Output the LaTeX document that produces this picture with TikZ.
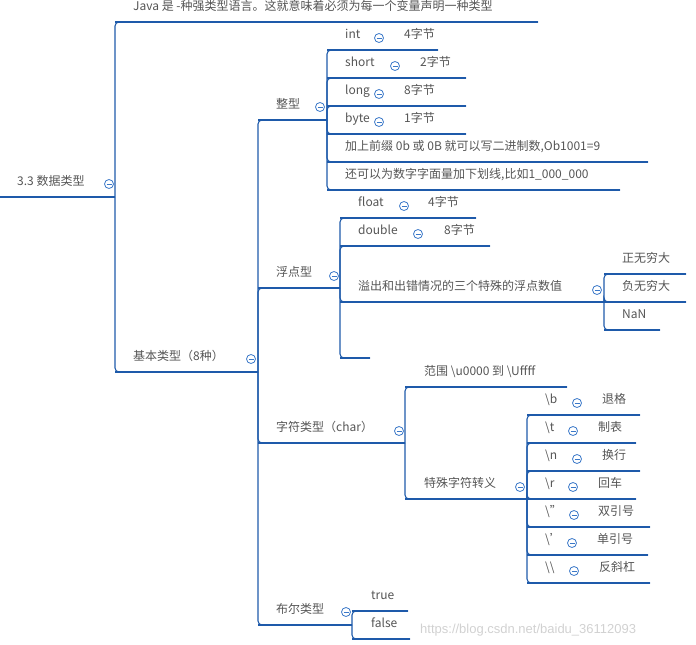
\documentclass[tikz,border=0pt]{standalone}
\usepackage{fontspec}
\setmainfont{Noto Sans CJK SC}
\newfontfamily\wmfont{Liberation Sans}
\definecolor{lineblue}{HTML}{1E5AAA}
\definecolor{circblue}{HTML}{3A78C8}
\definecolor{txtgray}{HTML}{555555}
\newcommand\ul[4]{\coordinate (#1-s) at (#2,#4); \coordinate (#1-e) at (#3,#4); \draw[uline] (#1-s) -- (#1-e);}
\newcommand\tx[4]{\node[txt] (#1) at (#2,#3-6) {#4};}
\newcommand\cc[3]{\node[coll] (#1) at (#2,#3) {};}
\begin{document}
\begin{tikzpicture}[x=1pt,y=-1pt,
 uline/.style={draw=lineblue,line width=1.1pt},
 conn/.style={draw=lineblue,line width=1.1pt,rounded corners=4pt},
 txt/.style={anchor=base west,inner sep=0pt,text=txtgray,font=\fontsize{12}{14}\selectfont},
 coll/.style={circle,draw=circblue,line width=0.8pt,minimum size=9pt,inner sep=0pt,
   path picture={\draw[circblue,line width=0.8pt] ([xshift=-2.5pt]path picture bounding box.center) -- ([xshift=2.5pt]path picture bounding box.center);}}]
\useasboundingbox (0,0) rectangle (696,645);
% root
\ul{root}{0}{115}{197} \tx{rootT}{17}{191}{3.3 数据类型} \cc{rootC}{109}{184}
\ul{java}{115}{538}{22} \tx{javaT}{133}{16}{Java 是 -种强类型语言。这就意味着必须为每一个变量声明一种类型}
\ul{basic}{115}{258}{372} \tx{basicT}{133}{366}{基本类型（8种）} \cc{basicC}{251}{359}
\draw[conn] (root-e) |- (java-e); \draw[conn] (root-e) |- (basic-e);
% 整型
\ul{zx}{258}{327}{120} \tx{zxT}{276}{114}{整型} \cc{zxC}{320}{107}
\ul{fd}{258}{340}{288} \tx{fdT}{276}{282}{浮点型} \cc{fdC}{334}{276}
\ul{ch}{258}{405}{443} \tx{chT}{276}{437}{字符类型（char）} \cc{chC}{399}{431}
\ul{bo}{258}{352}{625} \tx{boT}{276}{619}{布尔类型} \cc{boC}{346}{612}
\foreach \n in {zx,fd,ch,bo} {\draw[conn] (basic-e) |- (\n-e);}
% 整型 children
\ul{int}{327}{438}{50} \tx{intT}{345}{44}{int} \cc{intC}{379}{38} \tx{intV}{404}{44}{4字节}
\ul{short}{327}{466}{78} \tx{shortT}{345}{72}{short} \cc{shortC}{395}{66} \tx{shortV}{420}{72}{2字节}
\ul{long}{327}{466}{106} \tx{longT}{345}{100}{long} \cc{longC}{379}{94} \tx{longV}{404}{100}{8字节}
\ul{byte}{327}{466}{134} \tx{byteT}{345}{128}{byte} \cc{byteC}{379}{122} \tx{byteV}{404}{128}{1字节}
\ul{pre}{327}{648}{162} \tx{preT}{345}{156}{加上前缀 0b 或 0B 就可以写二进制数,Ob1001=9}
\ul{und}{327}{620}{190} \tx{undT}{345}{184}{还可以为数字字面量加下划线,比如1\_000\_000}
\foreach \n in {int,short,long,byte,pre,und} {\draw[conn] (zx-e) |- (\n-e);}
% 浮点型 children
\ul{float}{340}{476}{218} \tx{floatT}{358}{212}{float} \cc{floatC}{404}{206} \tx{floatV}{428}{212}{4字节}
\ul{dbl}{340}{490}{246} \tx{dblT}{358}{240}{double} \cc{dblC}{418}{234} \tx{dblV}{444}{240}{8字节}
\ul{ovf}{340}{604}{302} \tx{ovfT}{358}{296}{溢出和出错情况的三个特殊的浮点数值} \cc{ovfC}{597}{290}
\ul{emp}{340}{370}{358}
\foreach \n in {float,dbl,ovf,emp} {\draw[conn] (fd-e) |- (\n-e);}
\ul{pinf}{604}{686}{274} \tx{pinfT}{622}{268}{正无穷大}
\ul{ninf}{604}{686}{302} \tx{ninfT}{622}{296}{负无穷大}
\ul{nan}{604}{660}{330} \tx{nanT}{622}{324}{NaN}
\foreach \n in {pinf,ninf,nan} {\draw[conn] (ovf-e) |- (\n-e);}
% 字符 children
\ul{rng}{405}{567}{387} \tx{rngT}{424}{381}{范围 \textbackslash u0000 到 \textbackslash Uffff}
\ul{esc}{405}{527}{499} \tx{escT}{424}{493}{特殊字符转义} \cc{escC}{520}{487}
\foreach \n in {rng,esc} {\draw[conn] (ch-e) |- (\n-e);}
\ul{eb}{527}{640}{415} \tx{ebT}{545}{409}{\textbackslash b} \cc{ebC}{577}{403} \tx{ebV}{602}{409}{退格}
\ul{et}{527}{636}{443} \tx{etT}{545}{437}{\textbackslash t} \cc{etC}{573}{431} \tx{etV}{598}{437}{制表}
\ul{en}{527}{640}{471} \tx{enT}{545}{465}{\textbackslash n} \cc{enC}{577}{459} \tx{enV}{602}{465}{换行}
\ul{er}{527}{636}{499} \tx{erT}{545}{493}{\textbackslash r} \cc{erC}{573}{487} \tx{erV}{598}{493}{回车}
\ul{eq}{527}{650}{527} \tx{eqT}{545}{521}{\textbackslash "} \cc{eqC}{574}{515} \tx{eqV}{598}{521}{双引号}
\ul{ea}{527}{648}{555} \tx{eaT}{545}{549}{\textbackslash '} \cc{eaC}{572}{543} \tx{eaV}{597}{549}{单引号}
\ul{es}{527}{650}{583} \tx{esT}{545}{577}{\textbackslash\textbackslash} \cc{esC}{574}{571} \tx{esV}{599}{577}{反斜杠}
\foreach \n in {eb,et,en,er,eq,ea,es} {\draw[conn] (esc-e) |- (\n-e);}
% 布尔
\ul{tru}{352}{408}{611} \tx{truT}{371}{605}{true}
\ul{fal}{352}{410}{639} \tx{falT}{371}{633}{false}
\foreach \n in {tru,fal} {\draw[conn] (bo-e) |- (\n-e);}
% watermark
\node[anchor=base west,inner sep=0pt,text=black!18,font=\wmfont\fontsize{13}{15}\selectfont] (wm) at (420,633) {https://blog.csdn.net/baidu\_36112093};
\end{tikzpicture}
\end{document}
